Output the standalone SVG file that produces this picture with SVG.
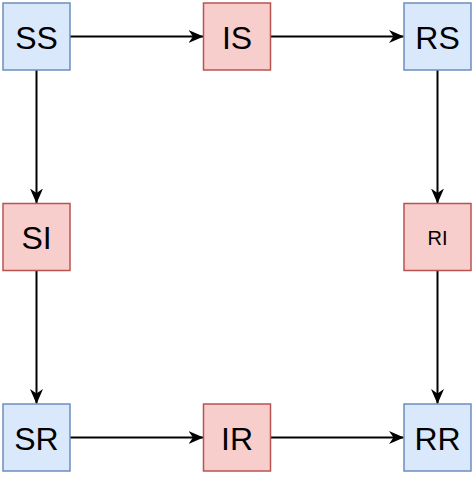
<svg xmlns="http://www.w3.org/2000/svg" width="474" height="478" viewBox="0 0 474 478">
<style>
.b{fill:#dae8fc;stroke:#6c8ebf;stroke-width:1.5}
.r{fill:#f8cecc;stroke:#b85450;stroke-width:1.5}
.t{font-family:"Liberation Sans",Arial,sans-serif;font-size:32px;fill:#000;text-anchor:middle;dominant-baseline:central}
.s{font-size:20px}
.e{fill:none;stroke:#000;stroke-width:2;marker-end:url(#a)}
</style>
<defs>
<marker id="a" viewBox="0 0 15 14" refX="14.5" refY="7" markerWidth="15" markerHeight="14" markerUnits="userSpaceOnUse" orient="auto">
<path d="M0,0.5 L15,7 L0,13.5 L4.5,7 Z" fill="#000"/>
</marker>
</defs>
<rect width="474" height="478" fill="#fff"/>
<g id="connectors">
<path class="e" d="M70,36.5 H203"/>
<path class="e" d="M270.5,36.5 H403.5"/>
<path class="e" d="M36.5,70 V203"/>
<path class="e" d="M36.5,270.5 V403.5"/>
<path class="e" d="M437.5,70 V203"/>
<path class="e" d="M437.5,270.5 V403.5"/>
<path class="e" d="M70,437.5 H203"/>
<path class="e" d="M270.5,437.5 H403.5"/>
</g>
<g id="SS"><rect class="b" x="3" y="3" width="67" height="67"/><text class="t" x="36.5" y="37.5">SS</text></g>
<g id="IS"><rect class="r" x="203.5" y="3" width="67" height="67"/><text class="t" x="237" y="37.5">IS</text></g>
<g id="RS"><rect class="b" x="404" y="3" width="67" height="67"/><text class="t" x="437.5" y="37.5">RS</text></g>
<g id="SI"><rect class="r" x="3" y="203.5" width="67" height="67"/><text class="t" x="36.5" y="238">SI</text></g>
<g id="RI"><rect class="r" x="404" y="203.5" width="67" height="67"/><text class="t s" x="437.5" y="237.5">RI</text></g>
<g id="SR"><rect class="b" x="3" y="404" width="67" height="67"/><text class="t" x="36.5" y="438.5">SR</text></g>
<g id="IR"><rect class="r" x="203.5" y="404" width="67" height="67"/><text class="t" x="237" y="438.5">IR</text></g>
<g id="RR"><rect class="b" x="404" y="404" width="67" height="67"/><text class="t" x="437.5" y="438.5">RR</text></g>
</svg>
